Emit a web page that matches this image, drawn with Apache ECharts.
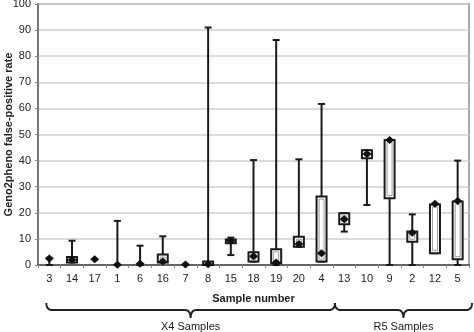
<!DOCTYPE html>
<html>
<head>
<meta charset="utf-8">
<script src="https://cdn.jsdelivr.net/npm/echarts@6/dist/echarts.min.js"></script>
<style>html,body{margin:0;padding:0;background:#fff}#c{width:474px;height:332px}</style>
</head>
<body>
<div id="c"></div>
<script>
var categories = ['3','14','17','1','6','16','7','8','15','18','19','20','4','13','10','9','2','12','5'];
var lowValues    = [0, 1, 2.2, 0, 0, 1, 0.2, 0, 3.8, 1.3, 0, 7, 1.3, 12.8, 23, 0, 0, 4.5, 0];
var boxBottom    = [2.7, 1, 2.2, 0, 0.3, 1, 0.2, 0, 8.3, 1.3, 0.7, 7, 1.3, 15.6, 40.9, 25.6, 8.9, 4.5, 2.2];
var boxTop       = [2.7, 3.1, 2.2, 0, 0.3, 4, 0.2, 1.3, 9.8, 4.9, 6, 10.8, 26.2, 19.8, 44, 47.9, 12.8, 23.2, 24.3];
var highValues   = [2.7, 9.3, 2.2, 16.9, 7.4, 11, 0.2, 91, 10.5, 40.2, 86.2, 40.5, 61.7, 19.8, 44, 47.9, 19.4, 23.2, 40];
var markerValues = [2.5, 2, 2.2, 0.1, 0.5, 1.3, 0.2, 0.3, 9.2, 3.4, 1, 8, 4.5, 17.5, 42.5, 47.9, 12.4, 23.5, 24.5];
var yTicks = [0, 10, 20, 30, 40, 50, 60, 70, 80, 90, 100];
var groupNames = ['X4 Samples', 'R5 Samples'];

var FONT = '"Liberation Sans", Arial, sans-serif';
var data = categories.map(function (c, i) {
  return [i, lowValues[i], boxBottom[i], boxTop[i], highValues[i], markerValues[i]];
});

var chart = echarts.init(document.getElementById('c'));

function renderItem(params, api) {
  var i = api.value(0);
  var pLow = api.coord([i, api.value(1)]);
  var pB = api.coord([i, api.value(2)]);
  var pT = api.coord([i, api.value(3)]);
  var pHigh = api.coord([i, api.value(4)]);
  var pM = api.coord([i, api.value(5)]);
  var x = pLow[0];
  var children = [];
  var ls = { stroke: '#1a1a1a', lineWidth: 2 };
  if (api.value(4) > api.value(1)) {
    children.push({ type: 'line', shape: { x1: x, y1: pLow[1], x2: x, y2: pHigh[1] }, style: ls });
    children.push({ type: 'line', shape: { x1: x - 3.5, y1: pHigh[1], x2: x + 3.5, y2: pHigh[1] }, style: ls });
    children.push({ type: 'line', shape: { x1: x - 3.5, y1: pLow[1], x2: x + 3.5, y2: pLow[1] }, style: ls });
  }
  if (api.value(3) > api.value(2)) {
    var w = 10;
    var h = pB[1] - pT[1];
    children.push({ type: 'rect', shape: { x: x - w / 2, y: pT[1], width: w, height: h },
      style: { fill: '#fff', stroke: '#1a1a1a', lineWidth: 2 } });
    if (h > 5) {
      children.push({ type: 'rect', shape: { x: x - w / 2 + 2.5, y: pT[1] + 2.5, width: w - 5, height: h - 5 },
        style: { fill: 'none', stroke: '#9a9a9a', lineWidth: 1 } });
    }
  }
  children.push({ type: 'polygon', shape: { points: [[x - 4.5, pM[1]], [x, pM[1] - 4], [x + 4.5, pM[1]], [x, pM[1] + 4]] },
    style: { fill: '#111' } });
  return { type: 'group', children: children };
}

chart.setOption({
  animation: false,
  grid: { left: 38, right: 5, top: 4, bottom: 67, containLabel: false, outerBoundsMode: 'none',
    show: true, borderColor: '#a8a8a8', borderWidth: 2, backgroundColor: 'transparent' },
  xAxis: {
    type: 'category', data: categories, boundaryGap: true,
    name: 'Sample number', nameLocation: 'middle', nameGap: 28, nameMoveOverlap: false,
    nameTextStyle: { fontFamily: FONT, fontSize: 11, fontWeight: 'bold', color: '#222' },
    axisLine: { lineStyle: { color: '#666', width: 2 } },
    axisTick: { show: true, length: 3, lineStyle: { color: '#888' } },
    axisLabel: { fontFamily: FONT, fontSize: 11, color: '#222', margin: 8 }
  },
  yAxis: {
    type: 'value', min: yTicks[0], max: yTicks[yTicks.length - 1], interval: 10,
    name: 'Geno2pheno false-positive rate', nameLocation: 'middle', nameGap: 24, nameMoveOverlap: false,
    nameTextStyle: { fontFamily: FONT, fontSize: 11, fontWeight: 'bold', color: '#222' },
    axisLine: { show: true, lineStyle: { color: '#777', width: 2 } },
    axisTick: { show: true, length: 3, lineStyle: { color: '#888' } },
    axisLabel: { fontFamily: FONT, fontSize: 11, color: '#222', margin: 7 },
    splitLine: { lineStyle: { color: '#cfcfcf', width: 1.5 } }
  },
  series: [{
    type: 'custom', renderItem: renderItem, data: data,
    encode: { x: 0, y: [1, 2, 3, 4, 5] }, clip: false
  }]
});

var cx = function (cat) { return chart.convertToPixel({ xAxisIndex: 0 }, cat); };
var xStart = cx(categories[0]) - 3;
var xSplit = (cx(categories[12]) + cx(categories[13])) / 2 + 2;
var rightEdge = chart.getWidth() - 5 + 3;

function quad(pts, p0, c, p1) {
  for (var t = 1; t <= 8; t++) {
    var u = t / 8;
    pts.push([(1 - u) * (1 - u) * p0[0] + 2 * (1 - u) * u * c[0] + u * u * p1[0],
              (1 - u) * (1 - u) * p0[1] + 2 * (1 - u) * u * c[1] + u * u * p1[1]]);
  }
}
function brace(a, b) {
  var m = (a + b) / 2;
  var yTop = 303, yH = 310, yTip = 318;
  var pts = [[a, yTop]];
  quad(pts, [a, yTop], [a, yH], [a + 6, yH]);
  pts.push([m - 6, yH]);
  quad(pts, [m - 6, yH], [m, yH], [m, yTip]);
  quad(pts, [m, yTip], [m, yH], [m + 6, yH]);
  pts.push([b - 6, yH]);
  quad(pts, [b - 6, yH], [b, yH], [b, yTop]);
  return pts;
}
chart.setOption({
  graphic: [
    { type: 'polyline', shape: { points: brace(xStart, xSplit) }, style: { fill: null, stroke: '#222', lineWidth: 2 } },
    { type: 'polyline', shape: { points: brace(xSplit, rightEdge) }, style: { fill: null, stroke: '#222', lineWidth: 2 } },
    { type: 'text', x: (xStart + xSplit) / 2, y: 327, style: { text: groupNames[0], font: '11px ' + FONT, fill: '#222', textAlign: 'center', textVerticalAlign: 'middle' } },
    { type: 'text', x: (xSplit + rightEdge) / 2, y: 327, style: { text: groupNames[1], font: '11px ' + FONT, fill: '#222', textAlign: 'center', textVerticalAlign: 'middle' } }
  ]
});
</script>
</body>
</html>
